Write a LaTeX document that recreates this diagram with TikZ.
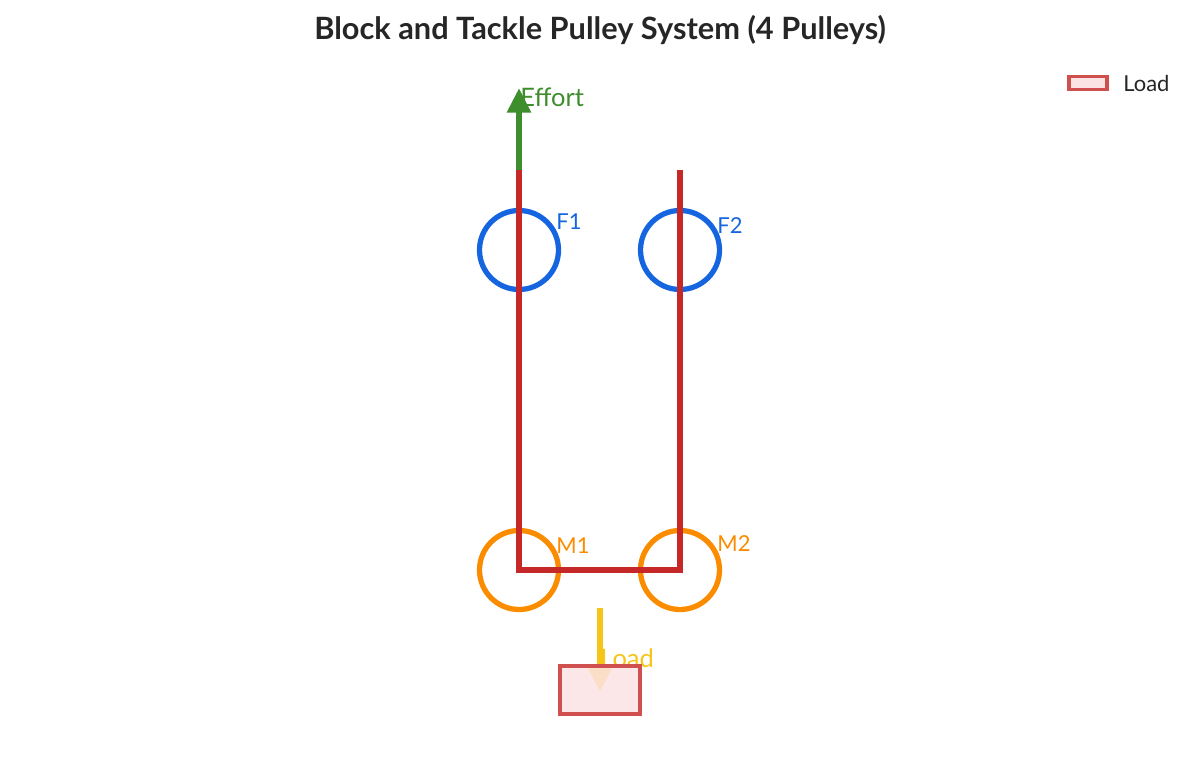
\documentclass[tikz,border=0pt]{standalone}
\usepackage{fontspec}
\setmainfont{Lato}
\usetikzlibrary{arrows.meta}
\definecolor{rope}{HTML}{C62828}
\definecolor{pblue}{HTML}{1565E0}
\definecolor{porange}{HTML}{FB8C00}
\definecolor{pgreen}{HTML}{3E8E2E}
\definecolor{pyellow}{HTML}{F5C518}
\definecolor{loadfill}{HTML}{FBE3E4}
\definecolor{loadedge}{HTML}{D05050}
\begin{document}
\begin{tikzpicture}[x=0.02cm,y=-0.02cm,
  fixed/.style={circle,draw=pblue,line width=3pt,minimum size=79*0.02cm,inner sep=0pt},
  moving/.style={circle,draw=porange,line width=3pt,minimum size=79*0.02cm,inner sep=0pt},
  lbl/.style={font=\fontsize{12.5}{15}\selectfont,anchor=west,inner sep=0pt},
  ropes/.style={draw=rope,line width=3pt},
  loadbox/.style={draw=loadedge,line width=2pt,fill=loadfill,fill opacity=0.85,minimum width=80*0.02cm,minimum height=48*0.02cm,inner sep=0pt}]
\useasboundingbox (0,0) rectangle (1200,763);
\node[font=\bfseries\fontsize{17.5}{21}\selectfont,text=black!85] (title) at (600,30) {Block and Tackle Pulley System (4 Pulleys)};
% legend
\node[draw=loadedge,line width=2pt,fill=loadfill,minimum width=38*0.02cm,minimum height=13*0.02cm,inner sep=0pt] (lg) at (1088,83) {};
\node[lbl,text=black!85] (lgt) at (1123,84) {Load};
% pulleys
\node[fixed] (F1) at (519,250) {};
\node[fixed] (F2) at (680,250) {};
\node[moving] (M1) at (519,570) {};
\node[moving] (M2) at (680,570) {};
\node[lbl,text=pblue] at (556,222) {F1};
\node[lbl,text=pblue] at (717,226) {F2};
\node[lbl,text=porange] at (556,546) {M1};
\node[lbl,text=porange] at (717,544) {M2};
% rope
\coordinate (r1) at (519,170);
\coordinate (r2) at (680,170);
\draw[ropes] (r1) -- (M1.center) -- (M2.center) -- (r2);
% effort
\coordinate (e1) at (519,88);
\draw[pgreen,line width=3.5pt,-{Triangle[length=14pt,width=13pt]}] (r1) -- (e1);
\node[lbl,text=pgreen,font=\fontsize{14.5}{17}\selectfont] at (520,97) {Effort};
% load
\coordinate (l1) at (600,608);
\coordinate (l2) at (600,692);
\draw[pyellow,line width=3.5pt,-{Triangle[length=14pt,width=13pt]}] (l1) -- (l2);
\node[lbl,text=pyellow,font=\fontsize{14.5}{17}\selectfont] at (600,658) {Load};
\node[loadbox] (box) at (600,690) {};
\end{tikzpicture}
\end{document}
